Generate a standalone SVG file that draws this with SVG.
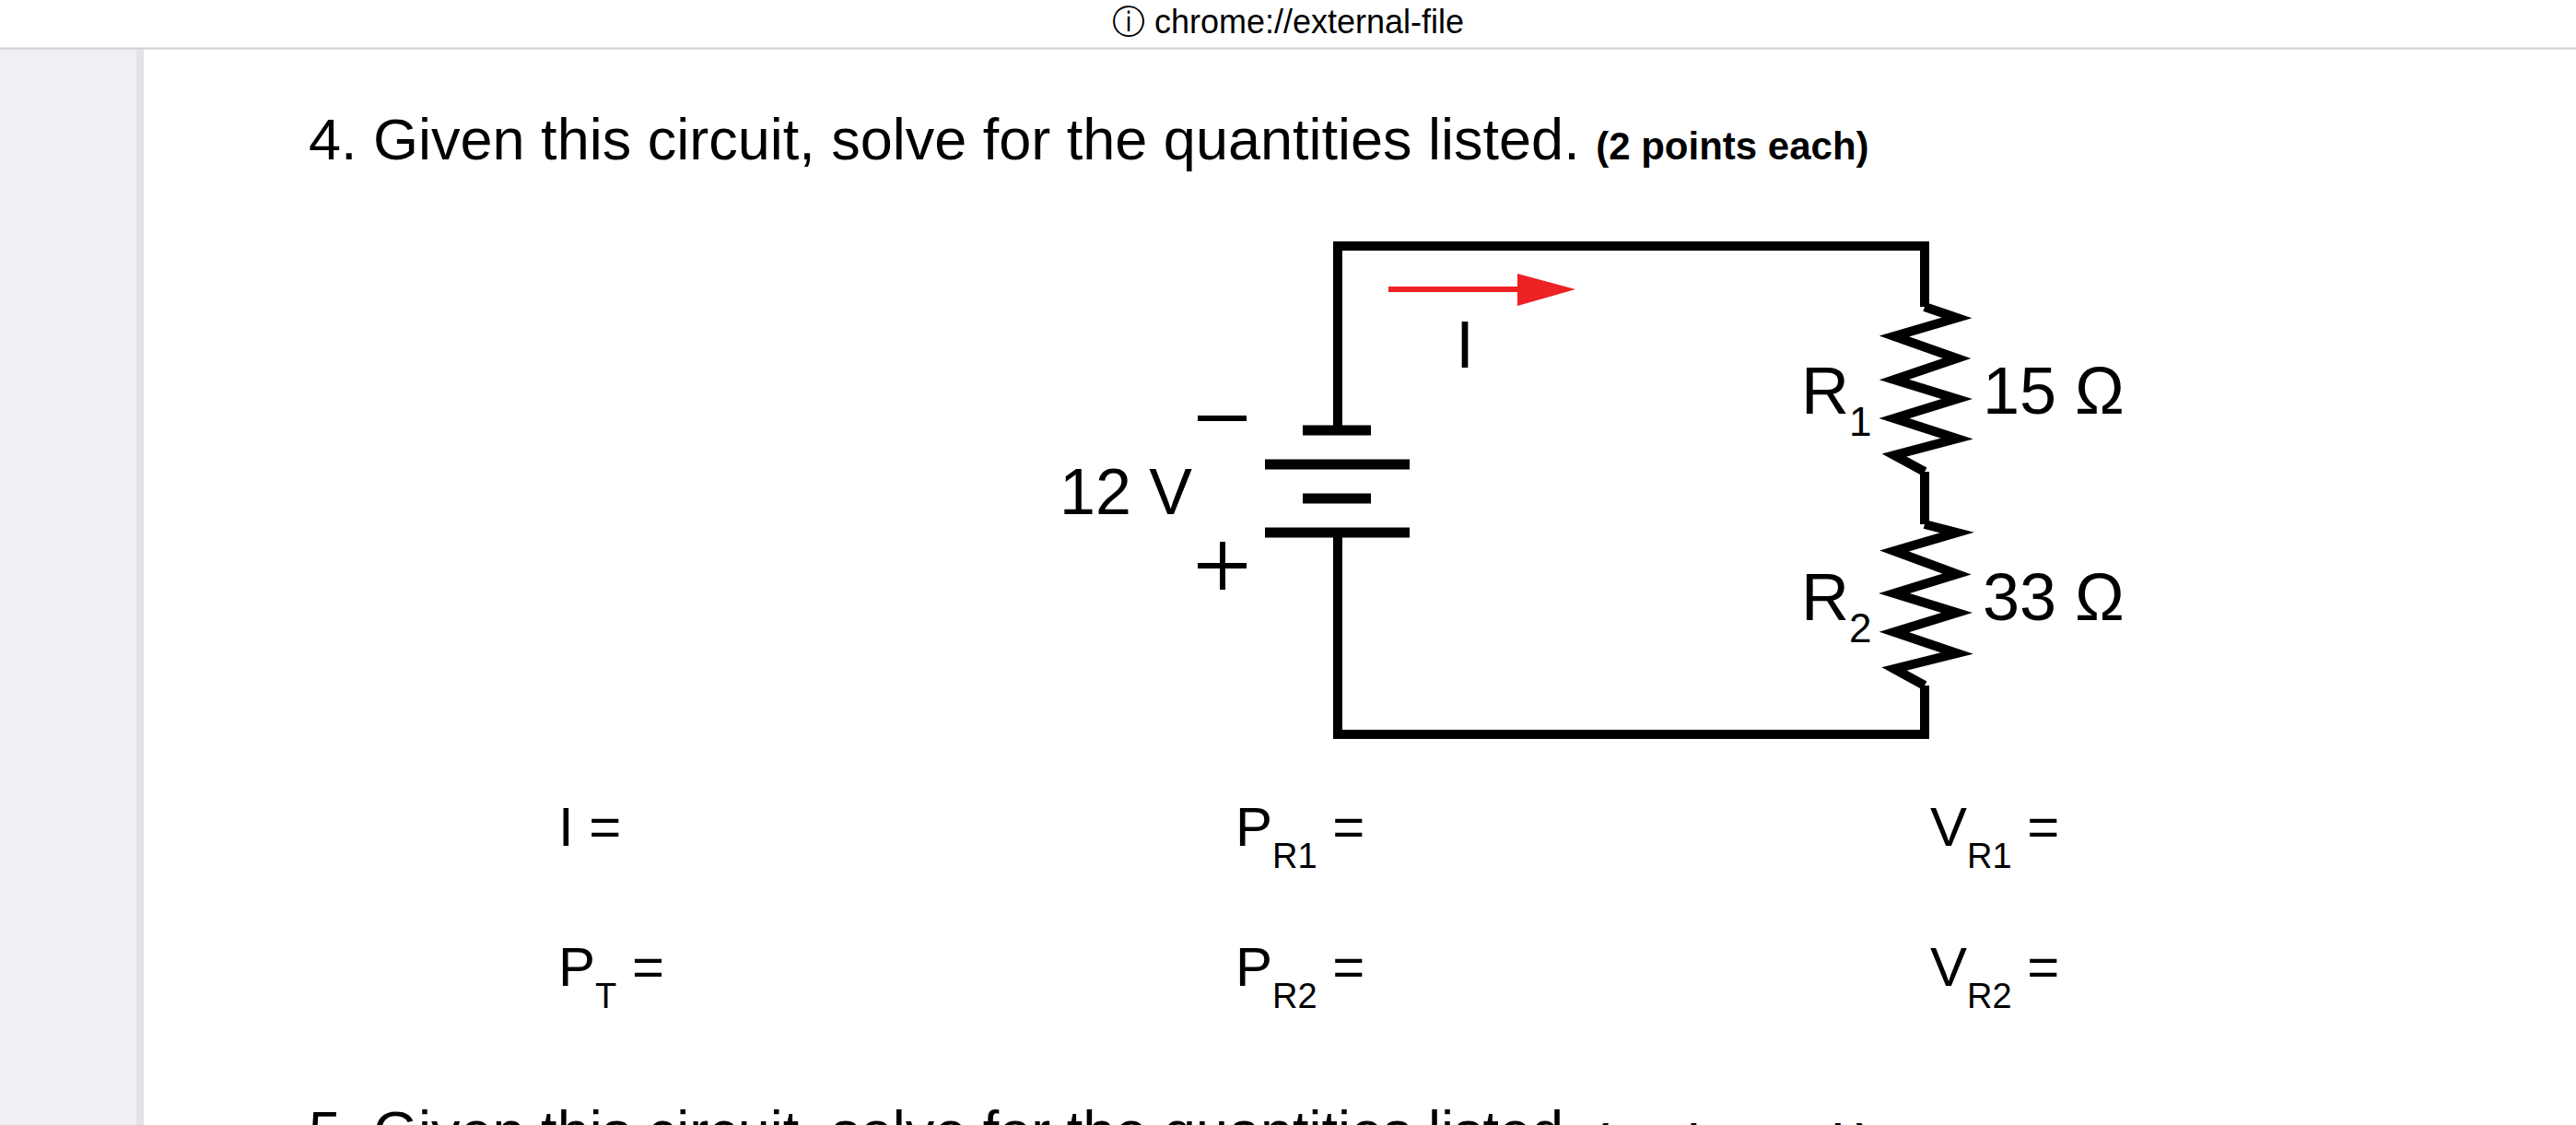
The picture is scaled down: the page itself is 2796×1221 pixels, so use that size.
<svg xmlns="http://www.w3.org/2000/svg" width="2796" height="1221" viewBox="0 0 2796 1221">
<style>
text{font-family:"Liberation Sans",Arial,sans-serif;fill:#000}
.w{fill:none;stroke:#000;stroke-width:10;stroke-linejoin:miter}
.p{stroke:#000;stroke-width:11}
.q{font-size:60px}
.s{font-size:38px}
</style>
<rect width="2796" height="1221" fill="#fff"/>
<rect x="0" y="53" width="155" height="1168" fill="#efeff4"/>
<rect x="148" y="53" width="8" height="1168" fill="#e2e2e8"/>
<line x1="0" y1="52.5" x2="2796" y2="52.5" stroke="#d0d0d0" stroke-width="2"/>
<text x="1398" y="36" font-size="36" text-anchor="middle">ⓘ chrome://external-file</text>
<text x="335" y="173" font-size="63">4. Given this circuit, solve for the quantities listed. <tspan font-size="42" font-weight="bold">(2 points each)</tspan></text>
<g id="connectors">
<polyline class="w" points="1452,467 1452,267 2089,267 2089,333"/>
<polyline class="w" points="2089,512 2089,569"/>
<polyline class="w" points="2089,744 2089,797 1452,797 1452,578"/>
</g>
<g id="battery">
<line class="p" x1="1414" y1="467" x2="1488" y2="467"/>
<line class="p" x1="1373" y1="504" x2="1530" y2="504"/>
<line class="p" x1="1414" y1="541" x2="1488" y2="541"/>
<line class="p" x1="1373" y1="578" x2="1530" y2="578"/>
<line x1="1300" y1="454" x2="1353" y2="454" stroke="#000" stroke-width="6"/>
<line x1="1300" y1="614" x2="1353" y2="614" stroke="#000" stroke-width="6"/>
<line x1="1327" y1="588" x2="1327" y2="640" stroke="#000" stroke-width="6"/>
<text x="1150" y="558" font-size="70">12 V</text>
</g>
<g id="current">
<line x1="1507" y1="314" x2="1650" y2="314" stroke="#ed2224" stroke-width="6"/>
<polygon points="1647,297 1710,314 1647,332" fill="#ed2224"/>
<text x="1580" y="399" font-size="72">I</text>
</g>
<g id="R1">
<polyline class="w" stroke-width="9" points="2089,333 2124,345 2056,365 2124,389 2056,412 2124,433 2056,454 2124,476 2056,494 2089,512"/>
<text x="1955" y="449" font-size="72">R<tspan font-size="44" dy="24">1</tspan></text>
<text x="2152" y="449" font-size="72">15 Ω</text>
</g>
<g id="R2">
<polyline class="w" stroke-width="9" points="2089,569 2124,578 2056,598 2124,623 2056,644 2124,665 2056,686 2124,709 2056,726 2089,744"/>
<text x="1955" y="673" font-size="72">R<tspan font-size="44" dy="24">2</tspan></text>
<text x="2152" y="673" font-size="72">33 Ω</text>
</g>
<g id="answers">
<text x="606" y="918" class="q">I =</text>
<text x="1341" y="918" class="q">P<tspan class="s" dy="24">R1</tspan><tspan dy="-24"> =</tspan></text>
<text x="2095" y="918" class="q">V<tspan class="s" dy="24">R1</tspan><tspan dy="-24"> =</tspan></text>
<text x="606" y="1070" class="q">P<tspan class="s" dy="24">T</tspan><tspan dy="-24"> =</tspan></text>
<text x="1341" y="1070" class="q">P<tspan class="s" dy="24">R2</tspan><tspan dy="-24"> =</tspan></text>
<text x="2095" y="1070" class="q">V<tspan class="s" dy="24">R2</tspan><tspan dy="-24"> =</tspan></text>
</g>
<text x="335" y="1250" font-size="63">5. Given this circuit, solve for the quantities listed. <tspan font-size="42" font-weight="bold">(2 points each)</tspan></text>
</svg>
